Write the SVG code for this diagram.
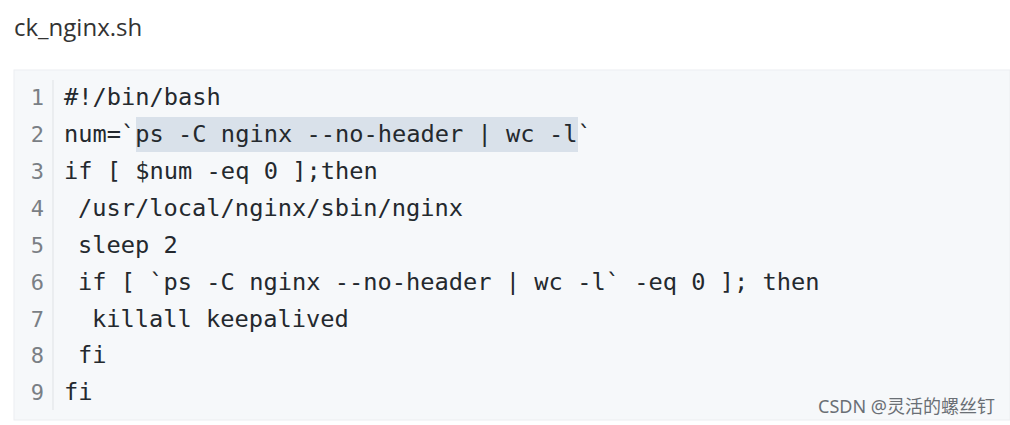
<svg xmlns="http://www.w3.org/2000/svg" width="1010" height="425" viewBox="0 0 1010 425">
<style>
.c{font-family:"DejaVu Sans Mono",monospace;font-size:23.7px;fill:#24292e}
.n{font-family:"DejaVu Sans Mono",monospace;font-size:22px;fill:#7a7f85;text-anchor:end}
</style>
<rect width="1010" height="425" fill="#ffffff"/>
<text x="14" y="36" font-family="Open Sans, sans-serif" font-size="24" fill="#333">ck_nginx.sh</text>
<rect x="14" y="70" width="996" height="350" fill="#f6f8fa" stroke="#eceef1"/>
<line x1="53" y1="80" x2="53" y2="410" stroke="#dfe2e5"/>
<rect x="136" y="117" width="442" height="35" fill="#d9e1ea"/>
<g class="n">
<text x="44" y="105">1</text><text x="44" y="142">2</text><text x="44" y="179">3</text>
<text x="44" y="216">4</text><text x="44" y="253">5</text><text x="44" y="290">6</text>
<text x="44" y="327">7</text><text x="44" y="363">8</text><text x="44" y="400">9</text>
</g>
<g class="c">
<text x="64" y="105">#!/bin/bash</text>
<text x="64" y="142">num=`ps -C nginx --no-header | wc -l`</text>
<text x="64" y="179">if [ $num -eq 0 ];then</text>
<text x="78" y="216">/usr/local/nginx/sbin/nginx</text>
<text x="78" y="253">sleep 2</text>
<text x="78" y="290">if [ `ps -C nginx --no-header | wc -l` -eq 0 ]; then</text>
<text x="92" y="327">killall keepalived</text>
<text x="78" y="363">fi</text>
<text x="64" y="400">fi</text>
</g>
<text x="995" y="413" text-anchor="end" font-family="Noto Sans, Noto Sans CJK SC, sans-serif" font-size="18" fill="#6a6f75">CSDN @灵活的螺丝钉</text>
</svg>
